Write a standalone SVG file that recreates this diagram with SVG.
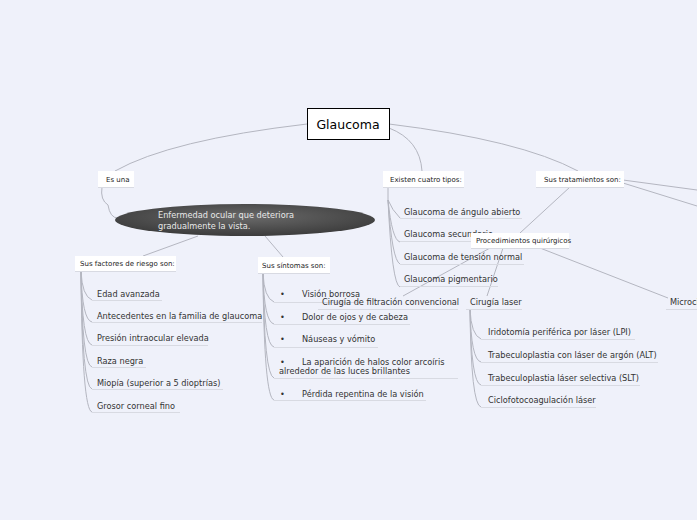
<svg xmlns="http://www.w3.org/2000/svg" width="697" height="520" viewBox="0 0 697 520">
<defs>
<style>
text{font-family:"DejaVu Sans","Liberation Sans",sans-serif;fill:#333}
.s{font-size:7px;fill:#222}
.i{font-size:8.2px}
.b{fill:#fff}
.c{fill:none;stroke:#b4b6c0;stroke-width:1}
.u{stroke:#d8dae2;stroke-width:1}
</style>
<radialGradient id="g" cx="0.5" cy="0.4" r="0.6"><stop offset="0" stop-color="#6a6a6a"/><stop offset="1" stop-color="#3c3c3c"/></radialGradient>
</defs>
<rect width="697" height="520" fill="#eff1fa"/>
<g id="connectors">
<path class="c" d="M307,124 Q170,140 115,171"/>
<path class="c" d="M389,128 Q420,140 422,171"/>
<path class="c" d="M389,124 Q520,140 578,171"/>
<path class="c" d="M623,180 L697,190"/>
<path class="c" d="M623,183 L697,206"/>
<path class="c" d="M102,187 Q100,200 108,205 Q110,218 118,218"/>
<path class="c" d="M198,236 L143,256"/>
<path class="c" d="M265,236 L283,257"/>
<path class="c" d="M570,187 L520,233"/>
<path class="c" d="M503,248 L487,296"/>
<path class="c" d="M490,248 L403,296"/>
<path class="c" d="M540,248 L668,298"/>
<path class="c" d="M388,187 V200 Q392,210 400,218"/>
<path class="c" d="M388,200 Q392,240 400,242"/>
<path class="c" d="M388,200 Q392,260 400,264"/>
<path class="c" d="M388,200 Q392,285 400,287"/>
<path class="c" d="M81,271 Q82,296 92,300"/>
<path class="c" d="M81,271 Q82,320 92,322"/>
<path class="c" d="M81,271 Q82,343 92,345"/>
<path class="c" d="M81,271 Q82,365 92,367"/>
<path class="c" d="M81,271 Q82,387 92,389"/>
<path class="c" d="M81,271 Q82,410 92,412"/>
<path class="c" d="M263,273 Q264,298 274,302"/>
<path class="c" d="M263,273 Q264,322 274,324"/>
<path class="c" d="M263,273 Q264,345 274,347"/>
<path class="c" d="M263,273 Q264,375 274,378"/>
<path class="c" d="M263,273 Q264,398 274,400"/>
<path class="c" d="M470,309 Q471,335 481,339"/>
<path class="c" d="M470,309 Q471,360 481,362"/>
<path class="c" d="M470,309 Q471,383 481,385"/>
<path class="c" d="M470,309 Q471,405 481,407"/>
</g>
<g id="n-root"><rect x="307.500" y="108.500" width="82" height="31" fill="#fff" stroke="#000"/><text x="348" y="129" text-anchor="middle" style="font-size:12.500px;fill:#000">Glaucoma</text></g>
<g id="n-esuna"><rect class="b" x="98" y="171" width="36" height="16"/><line class="u" x1="98" y1="187.500" x2="134" y2="187.500"/><text class="s" x="106" y="182">Es una</text></g>
<g id="n-enf"><ellipse cx="245" cy="220" rx="130" ry="16" fill="url(#g)"/><text x="158" y="218" style="font-size:8.200px;fill:#e8e8e8">Enfermedad ocular que deteriora</text><text x="158" y="229" style="font-size:8.200px;fill:#e8e8e8">gradualmente la vista.</text></g>
<g id="n-tipos"><rect class="b" x="383" y="171" width="81" height="16"/><line class="u" x1="383" y1="187.500" x2="464" y2="187.500"/><text class="s" x="390" y="182">Existen cuatro tipos:</text></g>
<g id="n-trat"><rect class="b" x="536" y="171" width="88" height="16"/><line class="u" x1="536" y1="187.500" x2="624" y2="187.500"/><text class="s" x="544" y="182">Sus tratamientos son:</text></g>
<g id="n-fact"><rect class="b" x="75" y="256" width="101" height="15"/><line class="u" x1="75" y1="271.500" x2="176" y2="271.500"/><text class="s" x="80" y="266">Sus factores de riesgo son:</text></g>
<g id="n-sint"><rect class="b" x="258" y="257" width="72" height="16"/><line class="u" x1="258" y1="273.500" x2="330" y2="273.500"/><text class="s" x="262" y="268">Sus síntomas son:</text></g>
<g id="tipos-items">
<text class="i" x="404" y="215">Glaucoma de ángulo abierto</text><line class="u" x1="400" y1="218.500" x2="522" y2="218.500"/>
<text class="i" x="404" y="237">Glaucoma secundario</text><line class="u" x1="400" y1="241.500" x2="498" y2="241.500"/>
<text class="i" x="404" y="260">Glaucoma de tensión normal</text><line class="u" x1="400" y1="264.500" x2="524" y2="264.500"/>
<text class="i" x="404" y="282">Glaucoma pigmentario</text><line class="u" x1="400" y1="286.500" x2="498" y2="286.500"/>
</g>
<g id="n-proc"><rect class="b" x="471" y="233" width="98" height="15"/><line class="u" x1="471" y1="248.500" x2="569" y2="248.500"/><text class="s" x="476" y="243">Procedimientos quirúrgicos</text></g>
<g id="fact-items">
<text class="i" x="97" y="297">Edad avanzada</text><line class="u" x1="92" y1="300.500" x2="162" y2="300.500"/>
<text class="i" x="97" y="319">Antecedentes en la familia de glaucoma</text><line class="u" x1="92" y1="322.500" x2="262" y2="322.500"/>
<text class="i" x="97" y="341">Presión intraocular elevada</text><line class="u" x1="92" y1="345.500" x2="208" y2="345.500"/>
<text class="i" x="97" y="364">Raza negra</text><line class="u" x1="92" y1="367.500" x2="146" y2="367.500"/>
<text class="i" x="97" y="386">Miopía (superior a 5 dioptrías)</text><line class="u" x1="92" y1="389.500" x2="223" y2="389.500"/>
<text class="i" x="97" y="409">Grosor corneal  fino</text><line class="u" x1="92" y1="412.500" x2="180" y2="412.500"/>
</g>
<g id="sint-items">
<text class="i" x="280" y="297">•</text><text class="i" x="302" y="297">Visión borrosa</text><line class="u" x1="274" y1="302.500" x2="360" y2="302.500"/>
<text class="i" x="280" y="320">•</text><text class="i" x="302" y="320">Dolor de ojos y de cabeza</text><line class="u" x1="274" y1="324.500" x2="410" y2="324.500"/>
<text class="i" x="280" y="342">•</text><text class="i" x="302" y="342">Náuseas y vómito</text><line class="u" x1="274" y1="347.500" x2="378" y2="347.500"/>
<text class="i" x="280" y="365">•</text><text class="i" x="302" y="365">La aparición de halos color arcoíris</text><text class="i" x="279" y="374">alrededor de las luces brillantes</text><line class="u" x1="274" y1="378.500" x2="458" y2="378.500"/>
<text class="i" x="280" y="397">•</text><text class="i" x="302" y="397">Pérdida repentina de la visión</text><line class="u" x1="274" y1="400.500" x2="426" y2="400.500"/>
</g>
<g id="n-conv"><text class="i" x="322" y="305">Cirugía de filtración convencional</text><line class="u" x1="318" y1="309.500" x2="458" y2="309.500"/></g>
<g id="n-laser"><text class="i" x="470" y="305">Cirugía laser</text><line class="u" x1="466" y1="309.500" x2="522" y2="309.500"/></g>
<g id="n-micro"><text class="i" x="670" y="305">Microcirugía</text><line class="u" x1="666" y1="309.500" x2="697" y2="309.500"/></g>
<g id="laser-items">
<text class="i" x="488" y="335">Iridotomía periférica por láser (LPI)</text><line class="u" x1="481" y1="339.500" x2="635" y2="339.500"/>
<text class="i" x="488" y="358">Trabeculoplastia con láser de argón (ALT)</text><line class="u" x1="481" y1="362.500" x2="658" y2="362.500"/>
<text class="i" x="488" y="381">Trabeculoplastia láser selectiva (SLT)</text><line class="u" x1="481" y1="385.500" x2="640" y2="385.500"/>
<text class="i" x="488" y="403">Ciclofotocoagulación láser</text><line class="u" x1="481" y1="407.500" x2="596" y2="407.500"/>
</g>
</svg>
